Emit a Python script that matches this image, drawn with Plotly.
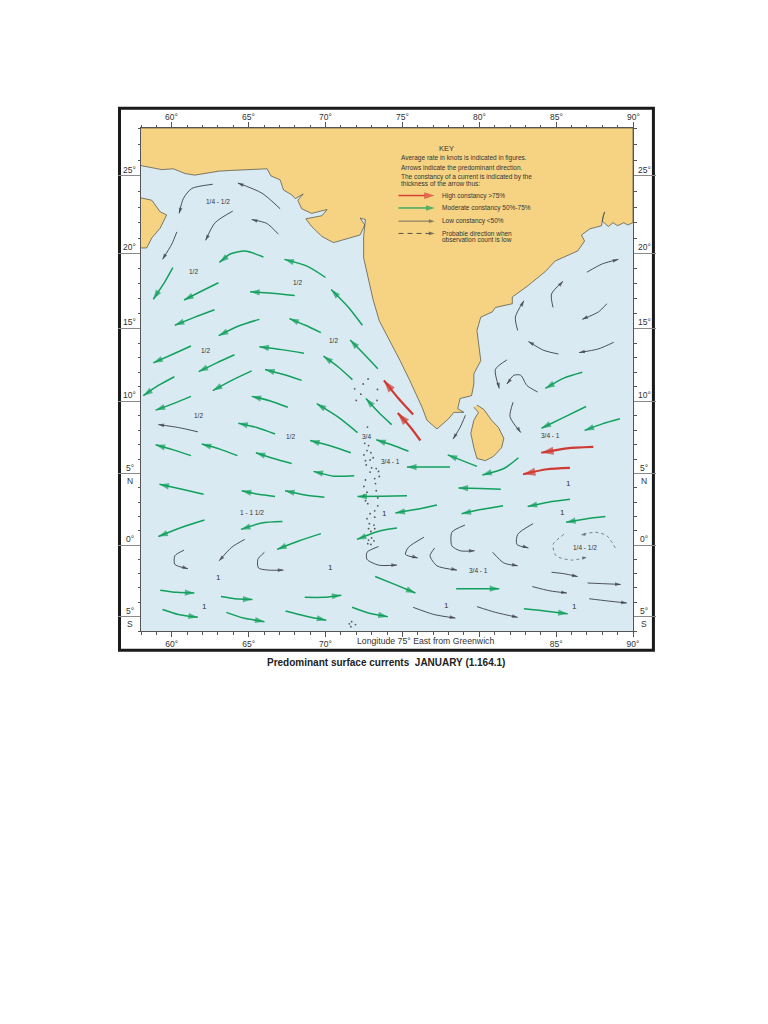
import numpy as np
import plotly.graph_objects as go

# Coast outlines, lon / lat
india_lon = [58, 58.7, 59.35, 60.1, 60.87, 61.5, 62.15, 63.05, 63.9, 65, 66.2, 66.45, 67.05, 67.27, 67.8, 68.03,
             68.55, 68.2, 68.45, 69.1, 70.1, 69.77, 68.72, 69.1, 69.77, 70.52, 71.28, 72.25, 72.55, 72.25, 72.6,
             72.48, 72.48, 72.8, 73.1, 73.5, 74.2, 74.85, 75.5, 75.85, 76.28, 76.6, 77.25, 78, 78.35, 79, 78.6,
             78.75, 79.5, 79.65, 79.65, 80.1, 79.85, 80.1, 80.85, 81.05, 82.15, 82.15, 83.1, 84.3, 84.95, 86.4,
             86.85, 86.65, 87.2, 87.95, 88.05, 88.15, 88, 88.4, 88.7, 89.0, 89.4, 89.65, 90, 90, 58]
india_lat = [25.65, 25.5, 25.4, 25.45, 25.15, 25.05, 25.15, 25.3, 25.35, 25.4, 25.45, 25, 24.75, 24.1, 23.8, 23.55,
             23.85, 23.45, 22.9, 22.6, 22.85, 22.45, 22.25, 21.75, 21.1, 20.7, 20.9, 21.2, 21.85, 22.3, 22.2,
             21.1, 19.7, 18.15, 16.9, 15.5, 14.15, 12.8, 11.4, 10.6, 9.6, 8.7, 8.1, 8.8, 9.25, 9.25, 9.5,
             10.2, 10.4, 11.2, 11.9, 12.8, 14.85, 15.75, 16.1, 16.4, 16.65, 17.1, 17.8, 18.8, 19.5, 20.15,
             20.8, 21.2, 21.6, 21.8, 22.4, 22.7, 22.1, 21.75, 22.0, 21.8, 22.0, 21.85, 22, 28, 28]
oman_lon = [58, 58.7, 59.25, 59.67, 59.25, 58.7, 58.37, 58]
oman_lat = [23.6, 23.45, 22.7, 22.5, 21.65, 21, 20.35, 20.35]
ceylon_lon = [79.85, 80.3, 80.8, 81.25, 81.6, 81.45, 80.93, 80.4, 79.85, 79.65, 79.45, 79.65, 79.95, 79.65]
ceylon_lat = [9.75, 9.45, 8.7, 8.2, 7.45, 6.8, 6.2, 5.9, 6.05, 6.8, 7.8, 8.7, 9.25, 9.6]

# Laccadive, Maldive and Chagos islets
islet_lon = [71.9, 72.3, 72.45, 72.77, 73.38, 72.0, 73.35, 72.73, 72.55, 72.8, 72.7, 72.95, 72.5, 72.6, 72.9, 73.1,
             72.65, 73.0, 72.9, 73.3, 73.45, 73.5, 73.2, 72.6, 72.5, 72.7, 73.25, 73.3, 73.4, 72.5, 72.6, 72.75,
             73.4, 73.2, 72.9, 73.2, 72.7, 72.85, 73.15, 72.8, 72.95, 73.2, 72.8, 73.0, 73.15, 72.95, 72.75,
             71.55, 71.7, 71.95, 71.65]
islet_lat = [10.87, 10.5, 11.2, 11.55, 10.83, 10.07, 10.07, 8.23, 7.1, 6.95, 6.6, 6.45, 6.3, 5.9, 5.95, 6.1,
             5.6, 5.4, 5.1, 5.35, 5.15, 4.8, 4.65, 4.55, 4.1, 3.7, 4.3, 3.8, 3.3, 3.5, 3.1, 2.9,
             2.75, 2.4, 2.2, 1.95, 1.85, 1.5, 1.4, 1.15, 0.95, 1.15, 0.35, 0.5, 0.3, 0.05, 0.1,
             -5.5, -5.35, -5.55, -5.7]

# Currents, each one ([lons], [lats]) from tail to head
red_currents = [
    ([75.7, 74.75, 73.8], [9.1, 10.2, 11.45]),
    ([76.17, 75.5, 74.7], [7.3, 8.25, 9.2]),
    ([87.42, 85.7, 84.03], [6.85, 6.75, 6.45]),
    ([85.9, 84.4, 82.85], [5.4, 5.3, 4.95]),
]
green_currents = [
    ([65.97, 64.77, 63.8, 63.1], [19.75, 20.15, 19.95, 19.4]),
    ([70, 68.8, 67.33], [18.4, 19.15, 19.6]),
    ([60.07, 59.57, 58.8], [19.05, 18.15, 16.95]),
    ([63.04, 61.95, 60.8], [18.05, 17.5, 16.9]),
    ([68, 66.52, 65.1], [17.2, 17.35, 17.45]),
    ([72.4, 71.5, 70.37], [15.2, 16.4, 17.6]),
    ([62.78, 61.5, 60.2], [16.25, 15.75, 15.2]),
    ([65.7, 64.35, 63.05], [15.6, 15.15, 14.5]),
    ([69.7, 68.7, 67.65], [14.7, 15.2, 15.65]),
    ([73.4, 72.5, 71.6], [12.25, 13.25, 14.2]),
    ([61.25, 60.1, 58.8], [13.8, 13.25, 12.65]),
    ([68.6, 67.15, 65.7], [13.3, 13.55, 13.75]),
    ([64.08, 62.93, 61.75], [13.2, 12.65, 12.05]),
    ([71.75, 70.85, 69.87], [11.5, 12.35, 13.1]),
    ([68.45, 67.27, 66.07], [11.45, 11.85, 12.2]),
    ([65.2, 63.9, 62.67], [12.1, 11.45, 10.75]),
    ([60.17, 59.13, 58.15], [11.7, 11.1, 10.4]),
    ([61.25, 60.1, 58.95], [10.35, 9.85, 9.4]),
    ([67.55, 66.37, 65.2], [9.6, 10.05, 10.35]),
    ([72.08, 70.85, 69.43], [7.85, 8.9, 9.85]),
    ([74.3, 73.45, 72.63], [8.4, 9.25, 10.2]),
    ([66.72, 65.53, 64.33], [7.75, 8.2, 8.5]),
    ([61.25, 60.1, 58.95], [6.25, 6.65, 7.0]),
    ([64.27, 63.13, 61.95], [6.25, 6.7, 7.05]),
    ([67.8, 66.63, 65.47], [5.7, 6.05, 6.45]),
    ([71.65, 70.4, 69.0], [6.45, 6.9, 7.3]),
    ([75.4, 74.3, 73.3], [6.55, 7.0, 7.35]),
    ([71.87, 70.52, 69.22], [4.85, 4.82, 5.15]),
    ([62.07, 60.67, 59.2], [3.55, 3.9, 4.25]),
    ([66.72, 65.64, 64.55], [3.4, 3.55, 3.8]),
    ([69.93, 68.68, 67.37], [3.35, 3.5, 3.8]),
    ([75.3, 73.7, 72.08], [3.45, 3.42, 3.4]),
    ([62.13, 60.67, 59.13], [1.75, 1.25, 0.6]),
    ([67.2, 65.85, 64.5], [1.65, 1.55, 1.1]),
    ([69.7, 68.3, 66.85], [0.8, 0.3, -0.3]),
    ([74.65, 73.57, 72.04], [1.2, 1.0, 0.4]),
    ([73.23, 74.5, 75.85], [-2.2, -2.75, -3.35]),
    ([59.25, 60.33, 61.47], [-3.15, -3.3, -3.35]),
    ([63.2, 64.13, 65.25], [-3.6, -3.75, -3.8]),
    ([68.65, 69.88, 71.03], [-3.65, -3.65, -3.5]),
    ([59.4, 60.43, 61.7], [-4.5, -4.85, -5.05]),
    ([63.55, 64.67, 66.03], [-4.7, -5.1, -5.35]),
    ([67.4, 68.68, 70.05], [-4.6, -4.95, -5.25]),
    ([71.73, 72.8, 74.05], [-4.35, -4.75, -5.0]),
    ([86.95, 85.5, 84.05], [9.65, 8.9, 8.15]),
    ([89.15, 88, 86.85], [8.8, 8.45, 8.0]),
    ([79.85, 78.9, 77.95], [5.5, 5.9, 6.3]),
    ([78.1, 76.7, 75.3], [5.45, 5.45, 5.45]),
    ([82.55, 81.6, 80.2], [6.1, 5.35, 4.9]),
    ([81.4, 80.1, 78.65], [3.9, 3.95, 4.0]),
    ([77.25, 75.95, 74.55], [2.8, 2.5, 2.25]),
    ([81.55, 80.2, 78.85], [2.75, 2.5, 2.2]),
    ([85.9, 84.5, 83.15], [3.2, 3.0, 2.7]),
    ([88.2, 87, 85.65], [2, 1.85, 1.6]),
    ([82.9, 84.25, 85.75], [-4.45, -4.6, -4.8]),
    ([78.5, 79.85, 81.3], [-3.05, -3.05, -3.05]),
    ([86.7, 85.5, 84.3], [12, 11.6, 10.9]),
]
dark_currents = [
    ([62.67, 61.3, 60.76, 60.48], [24.47, 24.2, 23.57, 22.6]),
    ([67.05, 65.87, 64.3], [22.9, 23.9, 24.55]),
    ([63.97, 62.82, 62.2], [22.75, 22.0, 20.85]),
    ([66.94, 66.18, 65.2], [21.25, 21.95, 22.2]),
    ([60.33, 60.0, 59.4], [21.4, 20.6, 19.6]),
    ([61.7, 60.43, 59.13], [7.9, 8.2, 8.4]),
    ([64.75, 63.9, 63.08], [0.4, -0.15, -1.1]),
    ([60.8, 60.2, 60.2, 61.05], [-0.35, -0.75, -1.35, -1.65]),
    ([66.03, 65.6, 65.64, 66.3, 67.27], [-0.5, -1, -1.6, -1.75, -1.75]),
    ([73.45, 72.7, 72.7, 73.45, 74.65], [-0.1, -0.5, -1, -1.4, -1.4]),
    ([82.2, 82, 82.7], [9.95, 8.95, 7.85]),
    ([79.1, 78.75, 78.3], [9.05, 8.2, 7.4]),
    ([79.07, 78.22, 78.22, 78.77, 79.7], [1.4, 0.9, -0.05, -0.4, -0.4]),
    ([83.5, 82.5, 82.45, 83.2], [1.5, 0.75, 0.05, -0.2]),
    ([76.4, 75.4, 75.2, 76], [0.55, -0.15, -0.65, -0.9]),
    ([77.1, 76.8, 77.25, 78.55], [-0.2, -0.75, -1.45, -1.75]),
    ([80.87, 81.6, 82.5], [-0.5, -1.25, -1.45]),
    ([84.7, 85.5, 86.4], [-1.9, -2, -2.2]),
    ([83.45, 84.6, 85.7], [-2.9, -3.2, -3.35]),
    ([87.05, 88.1, 89.2], [-2.65, -2.7, -2.75]),
    ([87.15, 88.3, 89.6], [-3.75, -3.9, -4.05]),
    ([75.7, 77.05, 78.45], [-4.35, -4.85, -5.1]),
    ([79.85, 81.05, 82.5], [-4.3, -4.7, -5.05]),
    ([87, 88, 89.05], [18.75, 19.3, 19.6]),
    ([84.8, 84.7, 85.45], [16.4, 17.3, 18.15]),
    ([88.3, 87.75, 86.7], [16.65, 16.1, 15.6]),
    ([82.5, 82.35, 82.9], [14.85, 15.75, 16.85]),
    ([85.15, 84.2, 83.2], [13.25, 13.5, 14.1]),
    ([88.75, 87.75, 86.5], [14.05, 13.6, 13.35]),
    ([81.8, 81.05, 81.3], [12.85, 12.2, 10.9]),
    ([83.8, 83.1, 82.7, 82.25, 81.8], [10.65, 11.1, 11.8, 11.8, 11.2]),
]
dashed_currents = [
    ([88.85, 88.3, 87.55, 86.6], [-0.2, 0.65, 0.9, 0.7]),
    ([85.5, 84.8, 85, 86, 87], [0.75, 0.05, -0.75, -1.05, -0.85]),
]

# Rates in knots written on the map
rate_text = ["1/4 - 1/2", "1/2", "1/2", "1/2", "1/2", "1/2", "1/2", "3/4", "3/4 - 1", "1 - 1 1/2", "1", "1", "1", "1",
             "3/4 - 1", "1", "1", "1/4 - 1/2", "3/4 - 1", "1", "1"]
rate_lon = [63, 61.4, 68.2, 70.55, 62.2, 61.75, 67.75, 72.65, 74.2, 65.2, 63.05, 70.35, 62.1, 73.85,
            84.65, 85.8, 85.4, 86.9, 79.95, 77.9, 86.2]
rate_lat = [23.35, 18.8, 18.1, 14.2, 13.5, 9.05, 7.6, 7.6, 5.85, 2.25, -2.25, -1.55, -4.3, 2.2,
            7.65, 4.3, 2.3, -0.15, -1.75, -4.2, -4.3]

# Key
key_text = ["Average rate in knots is indicated in figures.", "Arrows indicate the predominant direction.",
            "The constancy of a current is indicated by the", "thickness of the arrow thus:"]
key_text_lat = [26.1, 25.5, 24.95, 24.55]
key_labels = ["High constancy >75%", "Moderate constancy 50%-75%", "Low constancy <50%"]
key_label_lat = [23.75, 22.95, 22.1]
key_lon = [74.75, 77.1]

lon_ticks = [60, 65, 70, 75, 80, 85, 90]
lat_ticks = [25, 20, 15, 10, 5, 0, -5]


def merc(lat):
    return np.degrees(np.log(np.tan(np.radians(45 + np.asarray(lat, dtype=float) / 2))))


fig = go.Figure()

# Land
for lons, lats in [(india_lon, india_lat), (oman_lon, oman_lat), (ceylon_lon, ceylon_lat)]:
    fig.add_trace(go.Scatter(x=lons, y=merc(lats), mode='lines', fill='toself', fillcolor='#F5D383',
                             line=dict(color='#4a4a40', width=0.7), hoverinfo='skip'))

fig.add_trace(go.Scatter(x=islet_lon, y=merc(islet_lat), mode='markers', hoverinfo='skip',
                         marker=dict(color='#555', size=1.8)))


def add_current(lons, lats, color, width, head, dash='solid', smooth=True):
    sizes = [0] * (len(lons) - 1) + [head]
    fig.add_trace(go.Scatter(
        x=lons, y=merc(lats), mode='lines+markers', hoverinfo='skip',
        line=dict(color=color, width=width, dash=dash, shape='spline' if smooth else 'linear', smoothing=0.7),
        marker=dict(symbol='arrow', angleref='previous', size=sizes, color=color, line=dict(width=0))
    ))


for lons, lats in red_currents:
    add_current(lons, lats, '#CF3A32', 2.2, 13)
for lons, lats in green_currents:
    add_current(lons, lats, '#12A05C', 1.5, 10)
for lons, lats in dark_currents:
    add_current(lons, lats, '#3a3f44', 0.9, 6)
for lons, lats in dashed_currents:
    add_current(lons, lats, '#4a4f54', 0.7, 5, dash='3px,3px')

# Key arrows
add_current(key_lon, [key_label_lat[0]] * 2, '#D8403A', 1.5, 11, smooth=False)
add_current(key_lon, [key_label_lat[1]] * 2, '#12A05C', 1.2, 9, smooth=False)
add_current(key_lon, [key_label_lat[2]] * 2, '#555', 0.8, 6, smooth=False)
add_current(key_lon, [21.3, 21.3], '#444', 0.9, 6, dash='5px,4px', smooth=False)

notes = []
font = 'Liberation Sans'
for txt, lon, lat in zip(rate_text, rate_lon, rate_lat):
    size = 8 if txt == '1' else 6.5
    notes.append(dict(x=lon, y=float(merc(lat)), text=txt, showarrow=False, font=dict(family=font, size=size, color='#333')))

notes.append(dict(x=77.9, y=float(merc(26.75)), text='KEY', showarrow=False, font=dict(family=font, size=7.5, color='#333')))
for txt, lat in zip(key_text, key_text_lat):
    notes.append(dict(x=74.78, y=float(merc(lat)), text=txt, xanchor='left', showarrow=False,
                      font=dict(family=font, size=6.5, color='#333')))
for txt, lat in zip(key_labels, key_label_lat):
    notes.append(dict(x=77.44, y=float(merc(lat)), text=txt, xanchor='left', showarrow=False,
                      font=dict(family=font, size=6.5, color='#333')))
notes.append(dict(x=77.44, y=float(merc(21.3)), text='Probable direction when', xanchor='left', showarrow=False,
                  font=dict(family=font, size=6.5, color='#333')))
notes.append(dict(x=77.44, y=float(merc(20.9)), text='observation count is low', xanchor='left', showarrow=False,
                  font=dict(family=font, size=6.5, color='#333')))

# Top longitude labels
for lon in lon_ticks:
    notes.append(dict(x=lon, y=1, xref='x', yref='paper', yanchor='bottom', yshift=4, text=f'{lon}°', showarrow=False,
                      font=dict(family=font, size=8.5, color='#333')))

# Latitude labels sit on the long tick lines, both sides
for lat in lat_ticks:
    for xp in (-0.023, 1.023):
        notes.append(dict(x=xp, xref='paper', y=float(merc(lat)), yanchor='bottom', text=f'{abs(lat)}°', showarrow=False,
                          xanchor='center', yshift=-1, font=dict(family=font, size=8.5, color='#333')))
for lat, hemi in [(5, 'N'), (-5, 'S')]:
    for xp in (-0.023, 1.023):
        notes.append(dict(x=xp, xref='paper', y=float(merc(lat)), yanchor='top', text=hemi, showarrow=False,
                          xanchor='center', font=dict(family=font, size=8.5, color='#333')))

notes.append(dict(x=76.5, y=0, yref='paper', yanchor='top', yshift=-3, text='Longitude 75° East from Greenwich',
                  showarrow=False, font=dict(family=font, size=8.7, color='#333')))
notes.append(dict(x=0.497, xref='paper', y=-0.062, yref='paper', yanchor='middle',
                  text='<b>Predominant surface currents  JANUARY (1.164.1)</b>', showarrow=False,
                  font=dict(family=font, size=10, color='#222')))

minor_lon = [v for v in range(58, 91) if v % 5]
minor_lat = [float(merc(v)) for v in range(-6, 29) if v % 5]

fig.update_layout(
    width=768, height=1024, autosize=False, showlegend=False,
    margin=dict(l=141, r=134.7, t=127.7, b=393.3),
    paper_bgcolor='white', plot_bgcolor='#D9EAF3',
    annotations=notes,
    xaxis=dict(range=[58, 90], tickvals=lon_ticks,
               ticktext=['60°', '65°', '70°', '', '', '85°', '90°'],
               ticks='outside', ticklen=5, tickwidth=1, tickcolor='#555', showgrid=False, zeroline=False,
               showline=True, linecolor='#555', linewidth=1, mirror='allticks',
               tickfont=dict(family=font, size=8.5, color='#333'),
               minor=dict(tickvals=minor_lon, ticks='outside', ticklen=2.5, tickcolor='#555', showgrid=False)),
    yaxis=dict(range=[float(merc(-6)), float(merc(28))], tickvals=[float(merc(v)) for v in lat_ticks],
               showticklabels=False, ticks='outside', ticklen=22, tickwidth=1.3, tickcolor='#8a8a8a',
               showgrid=False, zeroline=False, showline=True, linecolor='#555', linewidth=1, mirror='allticks',
               minor=dict(tickvals=minor_lat, ticks='outside', ticklen=2.5, tickcolor='#555', showgrid=False)),
    # outer black frame of the plate
    shapes=[dict(type='rect', xref='paper', yref='paper', x0=-0.0437, x1=1.0415, y0=-0.0384, y1=1.0392,
                 line=dict(color='#1a1a1a', width=3), layer='below')],
)

fig.write_html("out.html", config=dict(displayModeBar=False), post_script="document.body.style.margin='0';")
